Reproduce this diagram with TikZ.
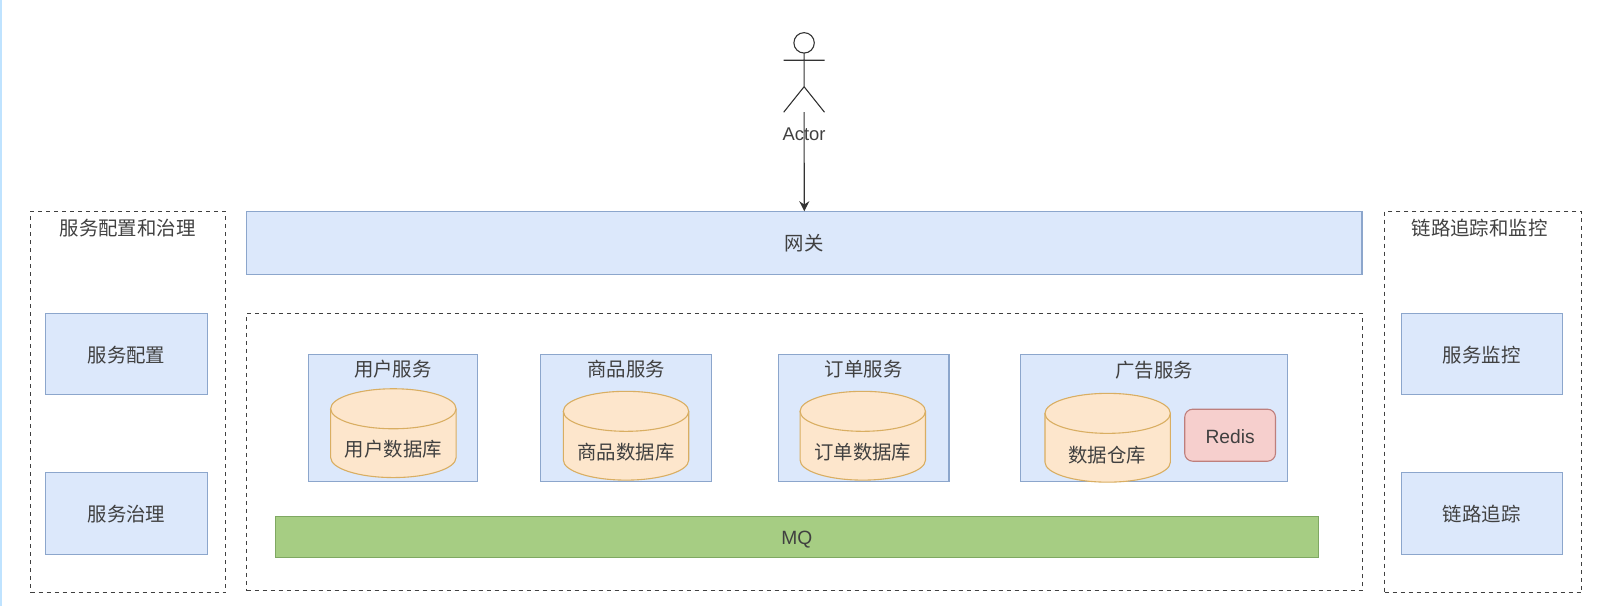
\documentclass[tikz,border=0pt]{standalone}
\usepackage{fontspec}
\setmainfont{Liberation Sans}
\newfontfamily\cjk{Noto Sans CJK SC}
\usetikzlibrary{arrows.meta}
\definecolor{txt}{HTML}{404040}
\definecolor{bluef}{HTML}{DCE8FB}
\definecolor{blues}{HTML}{8CA6CC}
\definecolor{orangef}{HTML}{FDE6CC}
\definecolor{oranges}{HTML}{D9AE62}
\definecolor{redf}{HTML}{F6CFCD}
\definecolor{reds}{HTML}{BE7F7C}
\definecolor{greenf}{HTML}{A6CD83}
\definecolor{greens}{HTML}{7FA862}
\definecolor{strip}{HTML}{BFE3FF}
\tikzset{
  x=0.5102pt,y=-0.5102pt,
  lbl/.style={font=\cjk\fontsize{9.7}{11}\selectfont,text=txt,inner sep=0pt,text height=8.4pt,text depth=0.4pt},
  latinlbl/.style={font=\fontsize{9.6}{11}\selectfont,text=txt,inner sep=0pt,text height=8.4pt,text depth=0.4pt},
  bluebox/.style={draw=blues,fill=bluef,line width=0.55pt,outer sep=0pt,inner sep=0pt,lbl},
  dashbox/.style={draw=black!75,dash pattern=on 2pt off 2pt,line width=0.5pt,outer sep=0pt,inner sep=0pt},
  dbbound/.style={inner sep=0pt,outer sep=0pt,minimum width=62.7pt,minimum height=44.4pt},
  dbline/.style={draw=oranges,fill=orangef,line width=0.55pt},
  actorline/.style={draw=black!80,line width=0.55pt},
}
\newcommand{\dbdraw}[1]{%
  \draw[dbline] ([yshift=-10pt]#1.north west)
    -- ([yshift=10pt]#1.south west)
    arc[start angle=180,end angle=360,x radius=31.35pt,y radius=10pt]
    -- ([yshift=-10pt]#1.north east)
    arc[start angle=0,end angle=180,x radius=31.35pt,y radius=10pt] -- cycle;
  \draw[draw=oranges,line width=0.55pt] ([yshift=-10pt]#1.north west)
    arc[start angle=180,end angle=360,x radius=31.35pt,y radius=10pt];
}
\begin{document}
\begin{tikzpicture}
\useasboundingbox (0,0) rectangle (1568,594);
\fill[strip] (0,0) rectangle (2,594);

% dashed containers
\node[dashbox,minimum width=97.4pt,minimum height=190.8pt] (leftc) at (125.5,394) {};
\node[dashbox,minimum width=98.5pt,minimum height=190.8pt] (rightc) at (1453.5,394) {};
\node[dashbox,minimum width=557.7pt,minimum height=138.8pt] (midc) at (788.2,443) {};
\node[lbl] (lefttitle) at (125,222.5) {服务配置和治理};
\node[lbl] (righttitle) at (1450,222.5) {链路追踪和监控};

% gateway
\node[bluebox,minimum width=557.7pt,minimum height=31.6pt] (gw) at (788.2,238) {网关};

% side boxes
\node[bluebox,minimum width=80.6pt,minimum height=40.8pt] (cfg) at (124,347) {服务配置};
\node[bluebox,minimum width=80.6pt,minimum height=40.8pt] (gov) at (124,503) {服务治理};
\node[bluebox,minimum width=80.6pt,minimum height=40.8pt] (mon) at (1452,347) {服务监控};
\node[bluebox,minimum width=80.6pt,minimum height=40.8pt] (trc) at (1452,503) {链路追踪};

% services
\node[bluebox,minimum width=84.7pt,minimum height=63.8pt] (s1) at (385,409.5) {};
\node[bluebox,minimum width=85.2pt,minimum height=63.8pt] (s2) at (613.5,409.5) {};
\node[bluebox,minimum width=85.2pt,minimum height=63.8pt] (s3) at (846.5,409.5) {};
\node[bluebox,minimum width=133.7pt,minimum height=63.8pt] (s4) at (1131,409.5) {};
\node[lbl] (t1) at (385,361.5) {用户服务};
\node[lbl] (t2) at (613.5,361.5) {商品服务};
\node[lbl] (t3) at (846.5,361.5) {订单服务};
\node[lbl] (t4) at (1131,362.5) {广告服务};

% databases
\node[dbbound] (d1) at (385.5,424.5) {};
\node[dbbound] (d2) at (613.5,427) {};
\node[dbbound] (d3) at (845.5,427) {};
\node[dbbound] (d4) at (1085.5,429) {};
\dbdraw{d1}\dbdraw{d2}\dbdraw{d3}\dbdraw{d4}
\node[lbl] (dt1) at (385.5,439.5) {用户数据库};
\node[lbl] (dt2) at (613.5,442.5) {商品数据库};
\node[lbl] (dt3) at (845.5,442.5) {订单数据库};
\node[lbl] (dt4) at (1085,445) {数据仓库};

% redis
\node[draw=reds,fill=redf,rounded corners=4pt,line width=0.55pt,outer sep=0pt,inner sep=0pt,
  minimum width=45.4pt,minimum height=26pt,latinlbl] (redis) at (1205.5,426.5) {Redis};

% MQ
\node[draw=greens,fill=greenf,line width=0.55pt,outer sep=0pt,inner sep=0pt,
  minimum width=521.4pt,minimum height=20.4pt,latinlbl] (mq) at (781,526) {MQ};

% actor
\node[circle,actorline,minimum size=10.2pt,inner sep=0pt,outer sep=0pt] (head) at (788,42) {};
\coordinate (neck) at (788,85);
\coordinate (foot) at (788,110);
\draw[actorline] (head.south) -- (neck) (768,59) -- (808,59)
  (768,110) -- (neck) -- (808,110);
\node[latinlbl,font=\fontsize{9.2}{11}\selectfont] (actor) at (788,130) {Actor};
\draw[actorline,-{Stealth[length=5pt,width=5pt]}] (foot) -- (gw.north);
\end{tikzpicture}
\end{document}
